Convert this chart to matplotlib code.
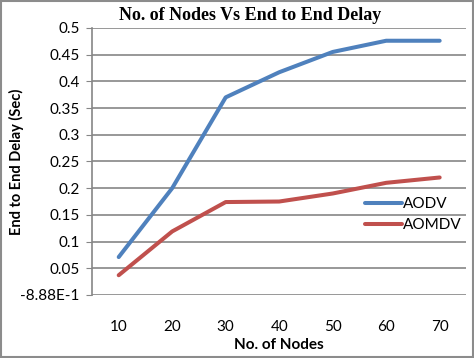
import matplotlib.pyplot as plt
from matplotlib.patches import Rectangle

nodes = ['10', '20', '30', '40', '50', '60', '70']
aodv = [0.071, 0.200, 0.370, 0.417, 0.455, 0.476, 0.476]
aomdv = [0.037, 0.119, 0.174, 0.175, 0.190, 0.210, 0.220]
yticks = [0, 0.05, 0.1, 0.15, 0.2, 0.25, 0.3, 0.35, 0.4, 0.45, 0.5]
yticklabels = ['-8.88E-1', '0.05', '0.1', '0.15', '0.2', '0.25', '0.3', '0.35', '0.4', '0.45', '0.5']

plt.rcParams['font.family'] = ['Lato', 'DejaVu Sans']

fig = plt.figure(figsize=(4.74, 3.58), dpi=100)
ax = fig.add_axes([0.194, 0.176, 0.790, 0.746])

x = range(len(nodes))
ax.plot(x, aodv, color='#4F81BD', linewidth=2.9, label='AODV', solid_capstyle='round')
ax.plot(x, aomdv, color='#C0504D', linewidth=2.9, label='AOMDV', solid_capstyle='round')

ax.set_xlim(-0.5, len(nodes) - 0.5)
ax.set_ylim(0, 0.5)
ax.set_yticks(yticks)
ax.set_yticklabels(yticklabels, fontsize=11)
ax.set_xticks(list(x))
ax.set_xticklabels(nodes, fontsize=11)
ax.tick_params(axis='x', length=0, pad=18)
ax.tick_params(axis='y', length=4, color='#868686', pad=5)
ax.yaxis.grid(True, color='#868686', linewidth=1.2)
ax.set_axisbelow(True)
for side in ['top', 'right', 'bottom']:
    ax.spines[side].set_visible(False)
ax.spines['left'].set_color('#868686')
ax.spines['left'].set_linewidth(1.2)

ax.set_xlabel('No. of Nodes', fontsize=11, fontweight='bold', labelpad=3)
ax.set_ylabel('End to End Delay (Sec)', fontsize=10.5, fontweight='bold')
ax.yaxis.set_label_coords(-0.182, 0.5)
fig.text(0.527, 0.958, 'No. of Nodes Vs End to End Delay', family='Liberation Serif',
         fontsize=13, fontweight='bold', ha='center', va='center')

ax.legend(loc='center right', bbox_to_anchor=(1.025, 0.30), frameon=False, fontsize=11,
          handlelength=2.4, handletextpad=0.1, labelspacing=0.45)

fig.patches.append(Rectangle((0.003, 0.004), 0.994, 0.992, transform=fig.transFigure,
                             fill=False, edgecolor='#8c8c8c', linewidth=1.5))

fig.savefig('out.png', dpi=100)
